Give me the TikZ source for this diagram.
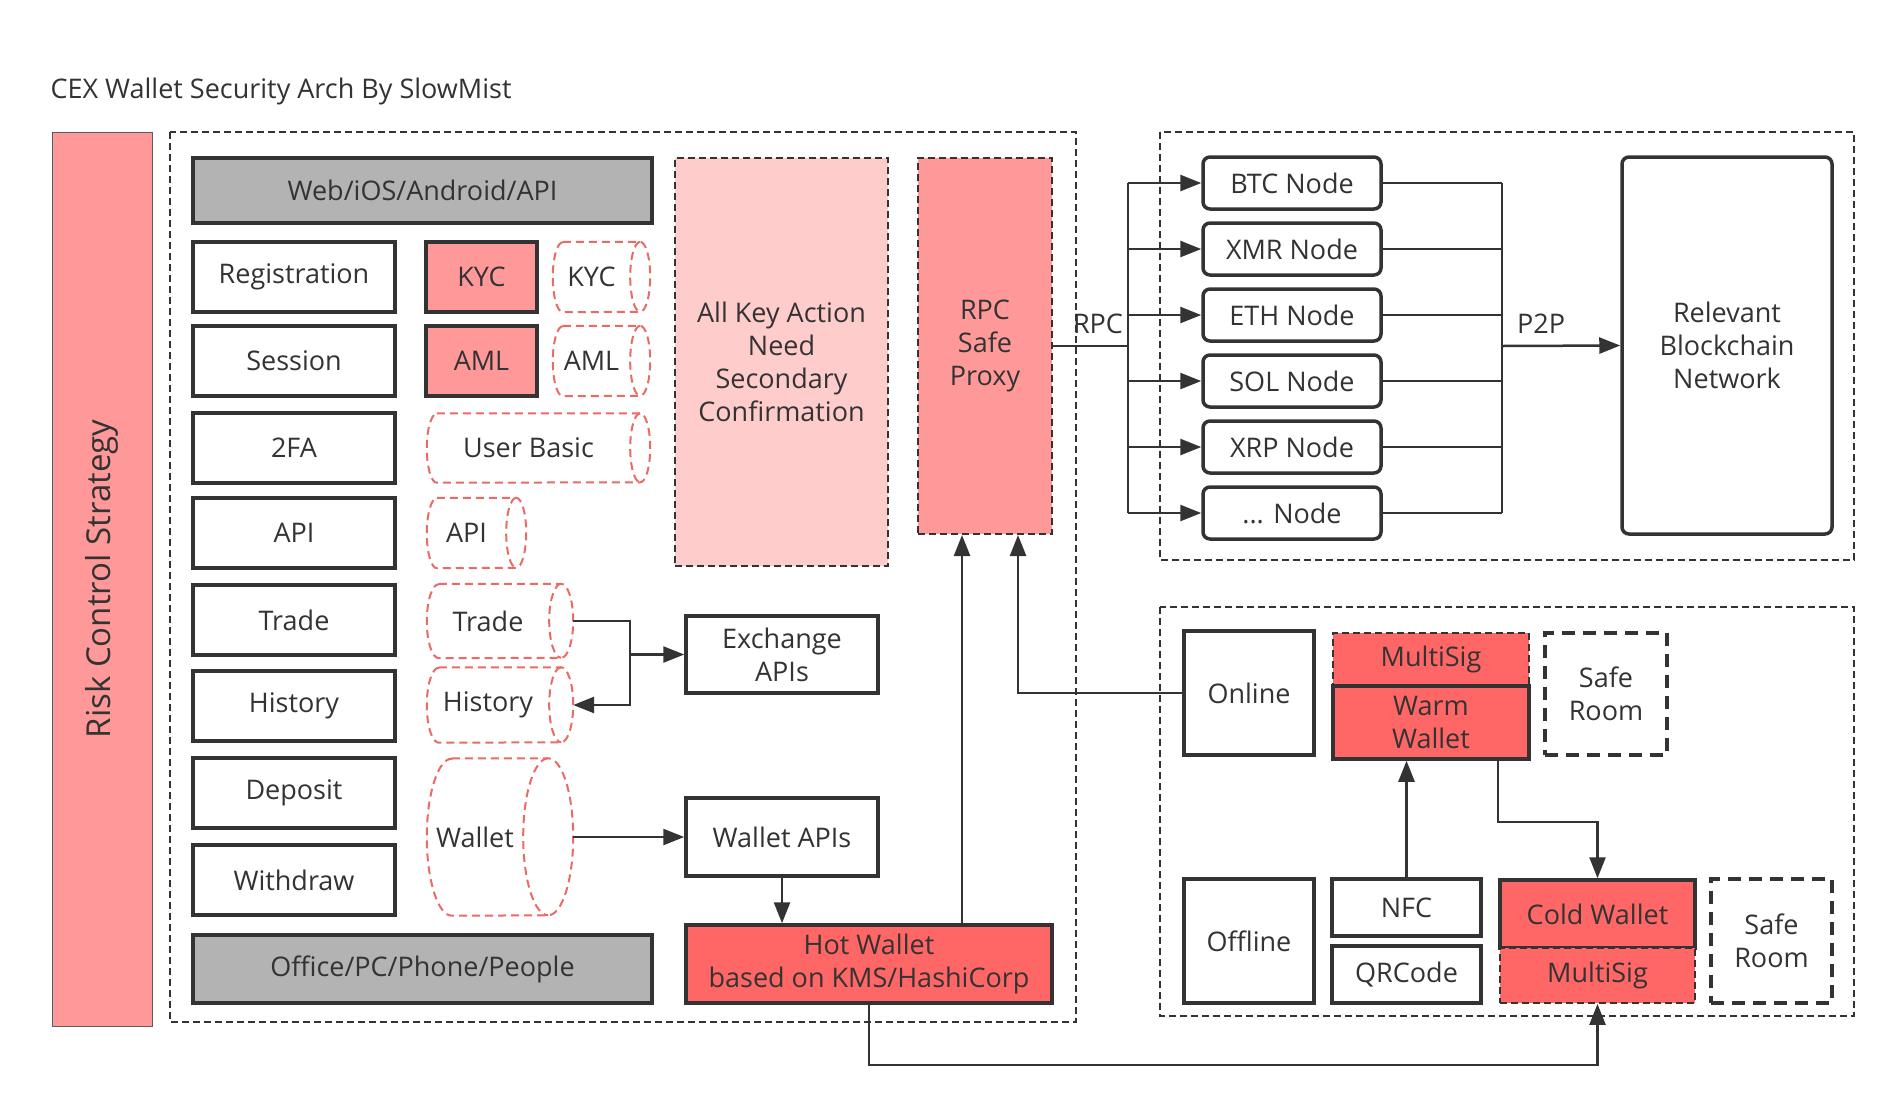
\documentclass[tikz,border=0pt]{standalone}
\usepackage{fontspec}
\setmainfont{Open Sans}
\usetikzlibrary{shapes.geometric, arrows.meta}

\definecolor{ink}{HTML}{333333}
\definecolor{bargrey}{HTML}{B3B3B3}
\definecolor{pinkfill}{HTML}{FF9999}
\definecolor{lightpink}{HTML}{FFCCCC}
\definecolor{redfill}{HTML}{FF6666}
\definecolor{storeline}{HTML}{EA6B66}

\begin{document}
\begin{tikzpicture}[
    x=1pt, y=-1pt,
    every node/.style={text=ink, font=\fontsize{27}{33}\selectfont},
    block/.style={rectangle, draw=ink, line width=3.5pt, fill=white, align=center, inner sep=0pt},
    greybar/.style={block, fill=bargrey},
    pinkblock/.style={block, fill=pinkfill},
    redblock/.style={block, fill=redfill},
    softzone/.style={block, line width=2pt, dash pattern=on 7pt off 4pt},
    store/.style={rectangle, inner sep=0pt, align=center},
    storeedge/.style={draw=storeline, line width=2pt, dash pattern=on 8pt off 5pt},
    zone/.style={draw=ink, line width=1.8pt, dash pattern=on 7pt off 4pt},
    chainnode/.style={block, rounded corners=7pt, minimum width=178pt, minimum height=52pt},
    saferoom/.style={block, dash pattern=on 13pt off 8pt},
    line/.style={draw=ink, line width=2.5pt},
    arrow/.style={line, -{Triangle[length=21pt,width=16pt]}}
]
    \useasboundingbox (0,0) rectangle (1904,1112);

    % Title and side bar
    \node[anchor=west] (title) at (47,91) {CEX Wallet Security Arch By SlowMist};
    \node[rectangle, draw=ink!80, line width=1pt, fill=pinkfill, rotate=90, minimum width=894pt, minimum height=100pt,
          font=\fontsize{33}{38}\selectfont] (risk) at (102,579) {Risk Control Strategy};

    % Zones
    \draw[zone] (170,132) rectangle (1076,1022);
    \draw[zone] (1160,132) rectangle (1854,560);
    \draw[zone] (1160,607) rectangle (1854,1016);

    % Client side
    \node[greybar, minimum width=459pt, minimum height=65pt] (web) at (422.5,190.5) {Web/iOS/Android/API};
    \node[greybar, minimum width=459pt, minimum height=68pt] (office) at (422.5,969) {Office/PC/Phone/People};

    \node[block, minimum width=202pt, minimum height=70pt] (reg) at (294,277) {Registration};
    \node[block, minimum width=202pt, minimum height=70pt] (session) at (294,361) {Session};
    \node[block, minimum width=202pt, minimum height=70pt] (tfa) at (294,448) {2FA};
    \node[block, minimum width=202pt, minimum height=70pt] (api) at (294,533) {API};
    \node[block, minimum width=202pt, minimum height=70pt] (trade) at (294,620) {Trade};
    \node[block, minimum width=202pt, minimum height=70pt] (history) at (294,706) {History};
    \node[block, minimum width=202pt, minimum height=70pt] (deposit) at (294,793) {Deposit};
    \node[block, minimum width=202pt, minimum height=70pt] (withdraw) at (294,880) {Withdraw};

    \node[pinkblock, minimum width=111pt, minimum height=70pt] (kyc) at (481.5,277) {KYC};
    \node[pinkblock, minimum width=111pt, minimum height=70pt] (aml) at (481.5,361) {AML};

    % Data stores (body only, the round ends are drawn below)
    \node[store, minimum width=77pt, minimum height=70pt] (kycdb) at (591.5,277) {KYC};
    \node[store, minimum width=77pt, minimum height=70pt] (amldb) at (591.5,361) {AML};
    \node[store, minimum width=203pt, minimum height=69pt] (userdb) at (528.5,448) {User Basic};
    \node[store, minimum width=79pt, minimum height=70pt] (apidb) at (466.5,533) {API};
    \node[store, minimum width=122pt, minimum height=74pt] (tradedb) at (488,621) {Trade};
    \node[store, minimum width=122pt, minimum height=75pt] (histdb) at (488,705) {History};
    \node[store, minimum width=96pt, minimum height=157pt] (walletdb) at (475,837) {Wallet};

    \foreach \s/\r/\h in {kycdb/10/35, amldb/10/35, userdb/10/34.5, apidb/10/35,
                          tradedb/12/37, histdb/12/37.5, walletdb/25/78.5} {
        \draw[storeedge] ([xshift=\r pt]\s.north west) -- ([xshift=\r pt]\s.north east)
            arc (90:-90:\r pt and \h pt) -- ([xshift=\r pt]\s.south west)
            arc (270:90:\r pt and \h pt) -- cycle;
        \draw[storeedge] ([xshift=\r pt]\s.north east) arc (90:270:\r pt and \h pt);
    }

    % Server side
    \node[softzone, fill=lightpink, minimum width=213pt, minimum height=408pt] (confirm) at (781.5,362)
        {All Key Action\\Need\\Secondary\\Confirmation};
    \node[softzone, fill=pinkfill, minimum width=134pt, minimum height=376pt] (rpc) at (985,346) {RPC\\Safe\\Proxy};
    \node[block, minimum width=192pt, minimum height=77pt] (exapi) at (782,654.5) {Exchange\\APIs};
    \node[block, minimum width=192pt, minimum height=78pt] (walletapi) at (782,837) {Wallet APIs};
    \node[redblock, minimum width=366pt, minimum height=78pt] (hotw) at (869,964) {Hot Wallet\\based on KMS/HashiCorp};

    % Chain nodes
    \node[chainnode] (btc) at (1292,183) {BTC Node};
    \node[chainnode] (xmr) at (1292,249) {XMR Node};
    \node[chainnode] (eth) at (1292,315) {ETH Node};
    \node[chainnode] (sol) at (1292,381) {SOL Node};
    \node[chainnode] (xrp) at (1292,447) {XRP Node};
    \node[chainnode] (dots) at (1292,513) {... Node};
    \node[block, rounded corners=7pt, minimum width=210pt, minimum height=377pt] (chain) at (1727,345.5)
        {Relevant\\Blockchain\\Network};

    % Warm and cold storage
    \node[block, minimum width=130pt, minimum height=124pt] (online) at (1249,693) {Online};
    \node[softzone, fill=redfill, line width=1.8pt, minimum width=196pt, minimum height=53pt] (warmms) at (1431,659.5) {MultiSig};
    \node[redblock, minimum width=196pt, minimum height=73pt] (warm) at (1431,722.5) {Warm\\Wallet};
    \node[saferoom, minimum width=122pt, minimum height=122pt] (safeup) at (1606,694) {Safe\\Room};
    \node[block, minimum width=130pt, minimum height=124pt] (offline) at (1249,941) {Offline};
    \node[block, minimum width=149pt, minimum height=57pt] (nfc) at (1406.5,907.5) {NFC};
    \node[block, minimum width=149pt, minimum height=57pt] (qrcode) at (1406.5,974.5) {QRCode};
    \node[redblock, minimum width=195pt, minimum height=68pt] (coldw) at (1597.5,914) {Cold Wallet};
    \node[softzone, fill=redfill, line width=1.8pt, minimum width=195pt, minimum height=55pt] (coldms) at (1597.5,975.5) {MultiSig};
    \node[saferoom, minimum width=121pt, minimum height=124pt] (safedown) at (1771.5,941) {Safe\\Room};

    % Lines
    \coordinate (tjoin) at (630,654.5);
    \draw[line] ([xshift=24pt]tradedb.east) -| (tjoin);
    \draw[arrow] (tjoin) -- (exapi.west);
    \draw[arrow] (tjoin) |- ([xshift=24pt]histdb.east);
    \draw[arrow] ([xshift=50pt]walletdb.east) -- (walletapi.west);
    \draw[arrow] (walletapi.south) -- (walletapi.south |- hotw.north);
    \draw[arrow] ([xshift=93pt]hotw.north) -- ([xshift=-23pt]rpc.south);
    \draw[arrow] (online.west) -| ([xshift=33pt]rpc.south);
    \draw[arrow] (hotw.south) -- ++(0,60) -| (coldms.south);

    \coordinate (rpcbus) at (1128,346);
    \coordinate (p2pbus) at (1502,346);
    \draw[line] (rpc.east) -- (rpcbus) node[pos=0.6, above, inner sep=11pt] (rpclbl) {RPC};
    \draw[line] (rpcbus |- btc.west) -- (rpcbus |- dots.west);
    \draw[line] (p2pbus |- btc.east) -- (p2pbus |- dots.east);
    \foreach \n in {btc,xmr,eth,sol,xrp,dots} {
        \draw[arrow] (rpcbus |- \n.west) -- (\n.west);
        \draw[line] (\n.east) -- (p2pbus |- \n.east);
    }
    \draw[arrow] (p2pbus) -- (chain.west) node[pos=0.33, above, inner sep=11pt] (p2plbl) {P2P};

    \draw[arrow] (nfc.north) -- (nfc.north |- warm.south);
    \draw[arrow] ([xshift=67pt]warm.south) -- ++(0,61) -| (coldw.north);

\end{tikzpicture}
\end{document}
